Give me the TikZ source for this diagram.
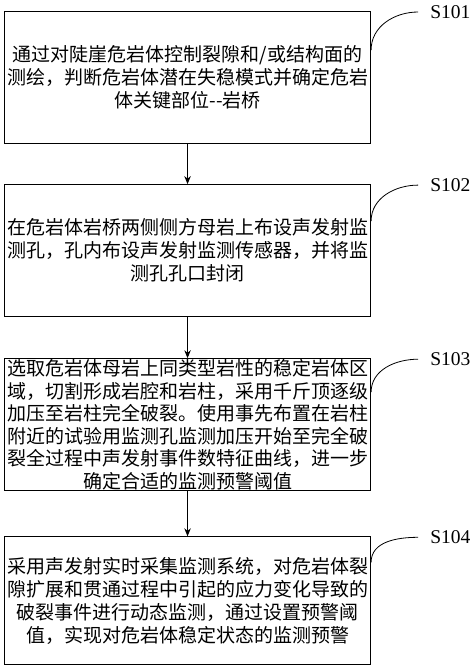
\documentclass[tikz,border=0pt]{standalone}
\usepackage{fontspec}
\setmainfont{Liberation Serif}
\newfontfamily\cjk{Noto Sans CJK SC}
\usepackage{tikz}
\usetikzlibrary{positioning, arrows.meta}

\begin{document}
\begin{tikzpicture}[x=1pt, y=1pt,
        stepbox/.style={draw, line width=1.1pt, minimum width=366pt, minimum height=132pt,
            align=center, inner xsep=2pt, inner ysep=0pt, font=\cjk\fontsize{19}{23}\selectfont},
        steplabel/.style={anchor=west, inner xsep=12pt, font=\fontsize{19.5}{21}\selectfont},
        flow/.style={-{Stealth[length=8pt, width=6.5pt]}, line width=0.9pt}]
    \useasboundingbox (0,0) rectangle (474,-665);
    \node (S101) [stepbox, anchor=north west] at (4,-11) {通过对陡崖危岩体控制裂隙和/或结构面的\\测绘，判断危岩体潜在失稳模式并确定危岩\\体关键部位{-}{-}岩桥};
    \node (S102) [stepbox, below=40pt of S101] {在危岩体岩桥两侧侧方母岩上布设声发射监\\测孔，孔内布设声发射监测传感器，并将监\\测孔孔口封闭};
    \node (S103) [stepbox, font=\cjk\fontsize{19}{22.5}\selectfont, below=41pt of S102] {选取危岩体母岩上同类型岩性的稳定岩体区\\域，切割形成岩腔和岩柱，采用千斤顶逐级\\加压至岩柱完全破裂。使用事先布置在岩柱\\附近的试验用监测孔监测加压开始至完全破\\裂全过程中声发射事件数特征曲线，进一步\\确定合适的监测预警阈值};
    \node (S104) [stepbox, minimum height=128pt, below=45pt of S103] {采用声发射实时采集监测系统，对危岩体裂\\隙扩展和贯通过程中引起的应力变化导致的\\破裂事件进行动态监测，通过设置预警阈\\值，实现对危岩体稳定状态的监测预警};
    \draw [flow] (S101) -- (S102);
    \draw [flow] (S102) -- (S103);
    \draw [flow] (S103) -- (S104);
    \foreach \s/\d in {S101/39, S102/37, S103/34, S104/26} {
        \node (\s-lbl) [steplabel] at ([xshift=47pt, yshift=-1pt]\s.north east) {\s};
        \draw [line width=0.8pt] ([yshift=-\d pt]\s.north east) to[out=90, in=180] (\s-lbl.west);
    }
\end{tikzpicture}
\end{document}
